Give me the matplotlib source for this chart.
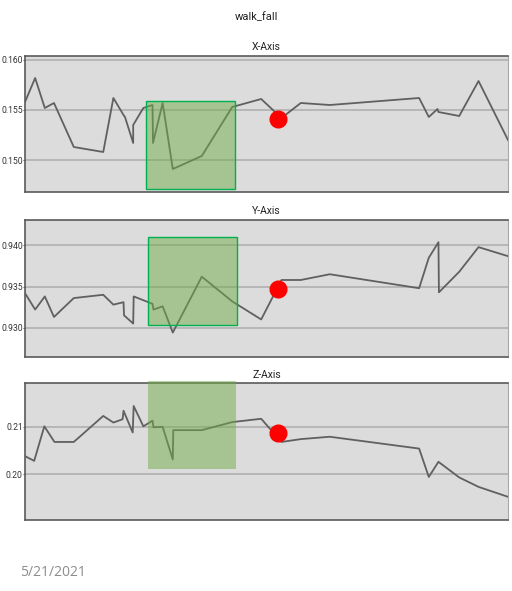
import matplotlib
matplotlib.use("Agg")
import matplotlib.pyplot as plt
from matplotlib.patches import Rectangle

# data (time runs 0..100 across each panel)
x_time = [0, 2.1, 4.1, 6.0, 10.1, 16.2, 18.3, 20.4, 20.7, 22.4, 22.4, 24.5, 26.4, 26.5,
          28.5, 30.6, 36.6, 42.9, 48.9, 53.1, 57.1, 63.1, 81.6, 83.6, 85.4, 85.6, 89.9, 93.9, 100]
x_vals = [0.1558, 0.1582, 0.1552, 0.1557, 0.1513, 0.1508, 0.1562, 0.1545, 0.1543, 0.1517, 0.1535,
          0.1552, 0.1555, 0.1517, 0.1557, 0.1491, 0.1504, 0.1553, 0.1561, 0.1542, 0.1557, 0.1555,
          0.1562, 0.1543, 0.1551, 0.1548, 0.1544, 0.1579, 0.1520]

y_time = [0, 2.1, 4.1, 6.0, 10.1, 16.2, 18.3, 20.4, 20.5, 22.4, 22.5, 26.4, 26.6, 28.5,
          30.6, 36.6, 42.9, 48.9, 53.1, 57.1, 63.1, 81.6, 83.6, 85.6, 85.7, 89.9, 93.9, 100]
y_vals = [0.9342, 0.9322, 0.9338, 0.9313, 0.9336, 0.9340, 0.9328, 0.9331, 0.9315, 0.9305, 0.9338,
          0.9329, 0.9322, 0.9326, 0.9294, 0.9362, 0.9332, 0.9310, 0.9358, 0.9358, 0.9365, 0.9348,
          0.9385, 0.9404, 0.9343, 0.9368, 0.9398, 0.9387]

z_time = [0, 1.9, 4.0, 6.1, 10.1, 16.2, 18.3, 20.2, 20.4, 22.3, 22.5, 24.5, 26.4, 26.6,
          28.5, 30.6, 30.7, 36.6, 42.9, 48.9, 53.1, 57.1, 63.1, 81.6, 83.6, 85.6, 89.9, 93.9, 100]
z_vals = [0.2038, 0.2028, 0.2101, 0.2068, 0.2068, 0.2123, 0.2109, 0.2116, 0.2134, 0.2088, 0.2144,
          0.2101, 0.2113, 0.2099, 0.2100, 0.2031, 0.2093, 0.2093, 0.2110, 0.2117, 0.2068, 0.2074,
          0.2079, 0.2054, 0.1994, 0.2026, 0.1993, 0.1973, 0.1952]

# the red marker (same moment in all three panels)
dot_time = 52.4
dot_vals = [0.15407, 0.93471, 0.20859]

# green highlight boxes: (t0, t1, v0, v1)
box_x = (25.1, 43.4, 0.14707, 0.15587)
box_y = (25.5, 43.8, 0.93029, 0.94102)
box_z = (25.5, 43.7, 0.20113, 0.21965)

panels = [
    ("X-Axis", x_time, x_vals, dot_vals[0], box_x, (0.1468, 0.1604), [0.150, 0.155, 0.160], "%.3f", True),
    ("Y-Axis", y_time, y_vals, dot_vals[1], box_y, (0.92643, 0.9431), [0.930, 0.935, 0.940], "%.3f", True),
    ("Z-Axis", z_time, z_vals, dot_vals[2], box_z, (0.1903, 0.2192), [0.20, 0.21], "%.2f", False),
]

narrow = ["Roboto", "DejaVu Sans"]

fig = plt.figure(figsize=(5.12, 5.91), dpi=100)
fig.patch.set_facecolor("white")

# axes rectangles in figure fraction
rects = [
    [25 / 512, 399 / 591, 483 / 512, 136 / 591],
    [25 / 512, 234 / 591, 483 / 512, 137 / 591],
    [25 / 512, 71 / 591, 483 / 512, 136.7 / 591],
]

for rect, (title, t, v, dv, box, ylim, ticks, fmt, edge) in zip(rects, panels):
    ax = fig.add_axes(rect)
    ax.set_facecolor("#dcdcdc")
    ax.plot(t, v, color="#606060", lw=1.3, zorder=3)
    ax.plot([dot_time], [dv], "o", color="red", markersize=12, zorder=5)
    r = Rectangle((box[0], box[2]), box[1] - box[0], box[3] - box[2],
                  facecolor="#70ad47", alpha=0.5, edgecolor="none", zorder=4, clip_on=False)
    ax.add_patch(r)
    if edge:
        ax.add_patch(Rectangle((box[0], box[2]), box[1] - box[0], box[3] - box[2],
                               facecolor="none", edgecolor="#00b050", lw=1.0, zorder=4))
    ax.set_xlim(0, 100)
    ax.set_ylim(*ylim)
    ax.set_yticks(ticks)
    ax.set_yticklabels([fmt % tk for tk in ticks], family=narrow, fontsize=6.2, color="#333333")
    ax.set_xticks([])
    ax.tick_params(axis="y", length=1.2, pad=0.4, color="#606060")
    ax.grid(axis="y", color="#b0b0b0", lw=1.2, zorder=1)
    ax.set_axisbelow(True)
    for s in ["left", "bottom", "top"]:
        ax.spines[s].set_color("#5a5a5a")
        ax.spines[s].set_linewidth(1.2)
    ax.spines["right"].set_color("#a8a8a8")
    ax.set_title(title, family=narrow, fontsize=7.5, pad=4, color="#222222")

fig.text(0.5, 1 - 17 / 591, "walk_fall", ha="center", va="center", family=narrow, fontsize=8, color="#222222")
fig.text(20 / 512, 1 - 572 / 591, "5/21/2021", ha="left", va="center",
         family=["Open Sans", "DejaVu Sans"], fontsize=10, color="#8c8c8c")

fig.savefig("out.png", dpi=100)
